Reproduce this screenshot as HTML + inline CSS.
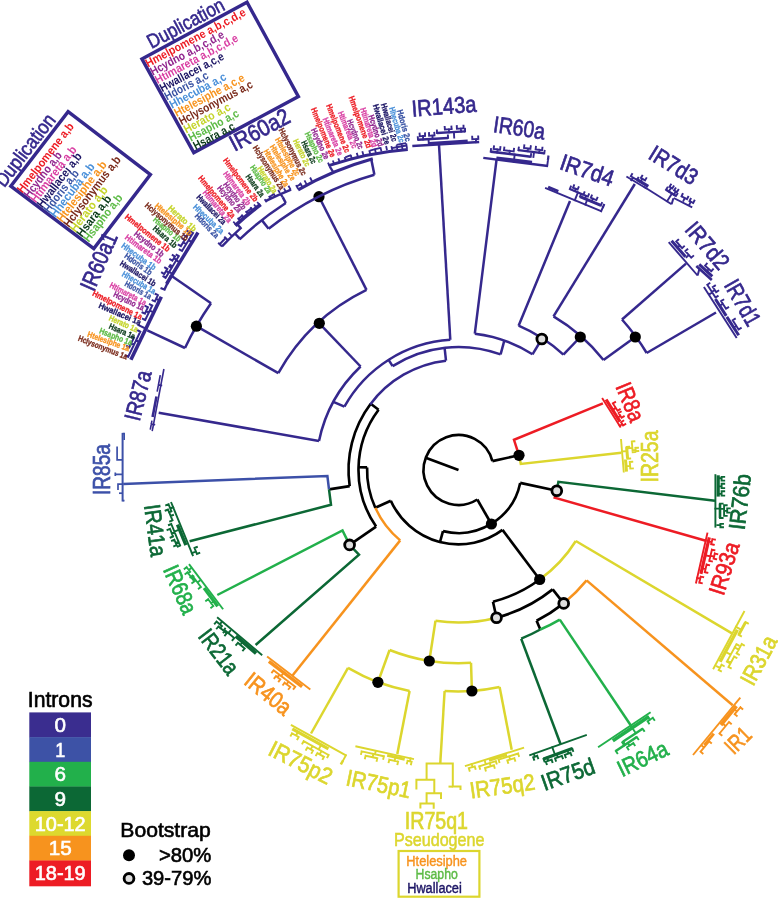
<!DOCTYPE html>
<html><head><meta charset="utf-8"><title>IR phylogeny</title>
<style>
html,body{margin:0;padding:0;background:#fff}
svg{display:block}
text{font-family:"Liberation Sans",sans-serif}
</style></head><body>
<svg width="778" height="899" viewBox="0 0 778 899" stroke-linecap="butt" stroke-linejoin="miter">
<rect width="778" height="899" fill="#fff"/>
<path d="M458.5 470 L425.7 457.7" stroke="#000000" stroke-width="2.65" fill="none" />
<path d="M477.3 499.5 A35 35 0 1 1 492.4 461.1" stroke="#000000" stroke-width="2.65" fill="none"/>
<path d="M492.4 461.1 L519 455.3" stroke="#000000" stroke-width="2.65" fill="none" />
<path d="M519 455.3 L514 439.8 L602.9 403.4" stroke="#ed1c24" stroke-width="2.5" fill="none" />
<path d="M519 455.3 L520.8 464 L621.4 452.8" stroke="#dcd62e" stroke-width="2.5" fill="none" />
<path d="M477.3 499.5 L491.4 524" stroke="#000000" stroke-width="2.65" fill="none" />
<path d="M520.2 482.9 A63 63 0 0 1 443 531.1" stroke="#000000" stroke-width="2.65" fill="none"/>
<path d="M520.2 482.9 L556.8 490.7" stroke="#000000" stroke-width="2.65" fill="none" />
<path d="M556.8 490.7 L558.4 481.8 L715 500.8" stroke="#0c6835" stroke-width="2.5" fill="none" />
<path d="M556.8 490.7 L554.7 497.7 L706.7 541" stroke="#ed1c24" stroke-width="2.5" fill="none" />
<path d="M443 531.1 L440 542" stroke="#000000" stroke-width="2.65" fill="none" />
<path d="M502.5 529.9 A74.3 74.3 0 0 1 390.8 500.7" stroke="#000000" stroke-width="2.65" fill="none"/>
<path d="M502.5 529.9 L539.7 579.5" stroke="#000000" stroke-width="2.65" fill="none" />
<path d="M390.8 500.7 L375.3 507.8" stroke="#000000" stroke-width="2.65" fill="none" />
<path d="M375.3 507.8 A91.4 91.4 0 0 0 400.2 540.4" stroke="#f7931e" stroke-width="2.5" fill="none"/>
<path d="M400.2 540.4 L292.5 675.5" stroke="#f7931e" stroke-width="2.5" fill="none" />
<path d="M375.3 507.8 A91.4 91.4 0 0 1 367.1 467.4" stroke="#000000" stroke-width="2.65" fill="none"/>
<path d="M367.1 467.4 L358.5 467.2" stroke="#000000" stroke-width="2.65" fill="none" />
<path d="M376.1 526.6 A100 100 0 0 1 378.6 409.8" stroke="#000000" stroke-width="2.65" fill="none"/>
<path d="M376.1 526.6 L349.6 544.9" stroke="#000000" stroke-width="2.65" fill="none" />
<path d="M349.6 544.9 L342.5 530.4 L217.3 595" stroke="#22b04b" stroke-width="2.5" fill="none" />
<path d="M349.6 544.9 L359 554.7 L255.6 645" stroke="#0c6835" stroke-width="2.5" fill="none" />
<path d="M378.6 409.8 L370.7 403.8" stroke="#000000" stroke-width="2.65" fill="none" />
<path d="M370.7 403.8 A110 110 0 0 0 349.7 486.1" stroke="#000000" stroke-width="2.65" fill="none"/>
<path d="M349.7 486.1 L329 489.4" stroke="#000000" stroke-width="2.65" fill="none" />
<path d="M329 489.4 L327.4 476 L123.2 483.9" stroke="#3c50a8" stroke-width="2.5" fill="none" />
<path d="M329 489.4 L331 504.8 L189.6 541.3" stroke="#0c6835" stroke-width="2.5" fill="none" />
<path d="M370.2 404.4 A110 110 0 0 1 446 360.7" stroke="#35288d" stroke-width="2.5" fill="none"/>
<path d="M446 360.7 L444.6 347.8" stroke="#35288d" stroke-width="2.5" fill="none" />
<path d="M392.6 366.1 A123 123 0 0 1 500.6 354.4" stroke="#35288d" stroke-width="2.5" fill="none"/>
<path d="M392.6 366.1 L388.6 359.8" stroke="#35288d" stroke-width="2.5" fill="none" />
<path d="M344.4 406.7 A130.5 130.5 0 0 1 450.3 339.8" stroke="#35288d" stroke-width="2.5" fill="none"/>
<path d="M450.3 339.8 L439 144.5" stroke="#35288d" stroke-width="2.5" fill="none" />
<path d="M344.4 406.7 L333.4 401.8" stroke="#35288d" stroke-width="2.5" fill="none" />
<path d="M319 440.9 A142.5 142.5 0 0 1 360.6 366.5" stroke="#35288d" stroke-width="2.5" fill="none"/>
<path d="M319 440.9 L158.7 412.8" stroke="#35288d" stroke-width="2.5" fill="none" />
<path d="M360.6 366.5 L319.3 323.3" stroke="#35288d" stroke-width="2.5" fill="none" />
<path d="M278.3 373.1 A203.4 203.4 0 0 1 366.5 289.9" stroke="#35288d" stroke-width="2.5" fill="none"/>
<path d="M278.3 373.1 L196.4 326.2" stroke="#35288d" stroke-width="2.5" fill="none" />
<path d="M366.5 289.9 L319 196.7" stroke="#35288d" stroke-width="2.5" fill="none" />
<path d="M500.6 354.4 L504.3 340.6" stroke="#35288d" stroke-width="2.5" fill="none" />
<path d="M474.8 333.7 A137.3 137.3 0 0 1 532.5 354.3" stroke="#35288d" stroke-width="2.5" fill="none"/>
<path d="M474.8 333.7 L496.5 160" stroke="#35288d" stroke-width="2.5" fill="none" />
<path d="M532.5 354.3 L541.8 339" stroke="#35288d" stroke-width="2.5" fill="none" />
<path d="M518.6 325.7 A156.1 156.1 0 0 1 563.4 354.7" stroke="#35288d" stroke-width="2.5" fill="none"/>
<path d="M518.6 325.7 L570 201" stroke="#35288d" stroke-width="2.5" fill="none" />
<path d="M563.4 354.7 L580.3 337" stroke="#35288d" stroke-width="2.5" fill="none" />
<path d="M553.5 316.4 A181.3 181.3 0 0 1 603.5 360" stroke="#35288d" stroke-width="2.5" fill="none"/>
<path d="M553.5 316.4 L634.8 184" stroke="#35288d" stroke-width="2.5" fill="none" />
<path d="M603.5 360 L635.3 337" stroke="#35288d" stroke-width="2.5" fill="none" />
<path d="M622 319.5 A221.9 221.9 0 0 1 646.7 353" stroke="#35288d" stroke-width="2.5" fill="none"/>
<path d="M622 319.5 L686 263.6" stroke="#35288d" stroke-width="2.5" fill="none" />
<path d="M646.7 353 L716 312.5" stroke="#35288d" stroke-width="2.5" fill="none" />
<path d="M539.7 579.5 A136.7 136.7 0 0 0 575.8 541" stroke="#dcd62e" stroke-width="2.5" fill="none"/>
<path d="M575.8 541 L732 633.4" stroke="#dcd62e" stroke-width="2.5" fill="none" />
<path d="M539.7 579.5 A136.2 136.2 0 0 1 493 601.7" stroke="#000000" stroke-width="2.65" fill="none"/>
<path d="M493 601.7 L496.5 617.7" stroke="#000000" stroke-width="2.65" fill="none" />
<path d="M496.5 617.7 A152.5 152.5 0 0 1 435.5 620.8" stroke="#dcd62e" stroke-width="2.5" fill="none"/>
<path d="M435.5 620.8 L429.3 661" stroke="#dcd62e" stroke-width="2.5" fill="none" />
<path d="M496.5 617.7 A152.3 152.3 0 0 0 552.7 589.4" stroke="#000000" stroke-width="2.65" fill="none"/>
<path d="M552.7 589.4 L563.7 603.4" stroke="#000000" stroke-width="2.65" fill="none" />
<path d="M563.7 603.4 A169.5 169.5 0 0 0 586.6 580.4" stroke="#f7931e" stroke-width="2.5" fill="none"/>
<path d="M586.6 580.4 L732.7 705.3" stroke="#f7931e" stroke-width="2.5" fill="none" />
<path d="M563.7 603.4 A169.9 169.9 0 0 1 536.6 620.8" stroke="#000000" stroke-width="2.65" fill="none"/>
<path d="M536.6 620.8 L540.3 629.5" stroke="#000000" stroke-width="2.65" fill="none" />
<path d="M540.3 629.5 A180 180 0 0 0 559.8 619.6" stroke="#22b04b" stroke-width="2.5" fill="none"/>
<path d="M559.8 619.6 L631.7 726.7" stroke="#22b04b" stroke-width="2.5" fill="none" />
<path d="M540.3 629.5 A179.6 179.6 0 0 1 521.2 638.7" stroke="#0c6835" stroke-width="2.5" fill="none"/>
<path d="M521.2 638.7 L560.6 744.3" stroke="#0c6835" stroke-width="2.5" fill="none" />
<path d="M429.3 661 A193 193 0 0 1 389.6 650" stroke="#dcd62e" stroke-width="2.5" fill="none"/>
<path d="M389.6 650 L377.9 682.3" stroke="#dcd62e" stroke-width="2.5" fill="none" />
<path d="M429.3 661 A193.2 193.2 0 0 0 471 662.8" stroke="#dcd62e" stroke-width="2.5" fill="none"/>
<path d="M471 662.8 L471.9 691" stroke="#dcd62e" stroke-width="2.5" fill="none" />
<path d="M377.9 682.3 A226.8 226.8 0 0 1 348 667.8" stroke="#dcd62e" stroke-width="2.5" fill="none"/>
<path d="M348 667.8 L311 733.5" stroke="#dcd62e" stroke-width="2.5" fill="none" />
<path d="M377.9 682.3 A226.7 226.7 0 0 0 409.6 691" stroke="#dcd62e" stroke-width="2.5" fill="none"/>
<path d="M409.6 691 L397.3 754" stroke="#dcd62e" stroke-width="2.5" fill="none" />
<path d="M471.9 691 A221.4 221.4 0 0 1 444.6 691" stroke="#dcd62e" stroke-width="2.5" fill="none"/>
<path d="M444.6 691 L440.3 763" stroke="#dcd62e" stroke-width="2.5" fill="none" />
<path d="M471.9 691 A221.1 221.1 0 0 0 499.6 687" stroke="#dcd62e" stroke-width="2.5" fill="none"/>
<path d="M499.6 687 L511.7 749.7" stroke="#dcd62e" stroke-width="2.5" fill="none" />
<path d="M196.4 326.2 A298.7 298.7 0 0 1 211 303.3" stroke="#35288d" stroke-width="2.5" fill="none"/>
<path d="M211 303.3 L171 275.5" stroke="#35288d" stroke-width="2.5" fill="none" />
<path d="M196.4 326.2 A299.2 299.2 0 0 0 185 348" stroke="#35288d" stroke-width="2.5" fill="none"/>
<path d="M185 348 L147.3 330.4" stroke="#35288d" stroke-width="2.5" fill="none" />
<path d="M412.3 146 L479.2 142" stroke="#35288d" stroke-width="2.4" fill="none"/>
<path d="M428.9 143.5 L467.7 141.1" stroke="#35288d" stroke-width="3.2" fill="none"/>
<path d="M418 139.8 L448.1 138" stroke="#35288d" stroke-width="2.4" fill="none"/>
<path d="M437 133 L465.1 131.4" stroke="#35288d" stroke-width="2.4" fill="none"/>
<path d="M428.9 145 L428.5 139.1 M418 139.8 L417.8 137.2 M448.1 138 L447.9 135.4 M419.8 136.2 L425.1 135.9 M423.2 139.4 L423 136 M419.8 136.2 L419.6 133.6 M425.1 135.9 L425 133.3 M429.1 135.7 L434.5 135.4 M432.6 138.9 L432.4 135.5 M429.1 135.7 L429 133.1 M434.5 135.4 L434.3 132.8 M454.2 137.6 L453.9 132 M437 133 L436.9 130.4 M465.1 131.4 L465 128.8 M444.9 129.5 L451.6 129.1 M449.1 132.3 L448.9 129.2 M444.9 129.5 L444.7 126.9 M451.6 129.1 L451.4 126.5 M456.9 128.7 L463.6 128.3 M461.1 131.6 L460.9 128.5 M456.9 128.7 L456.8 126.1 M463.6 128.3 L463.5 125.7 M472.3 139.3 L478.3 138.9 M476.1 142.2 L475.9 139.1 M472.3 139.3 L472.2 136.7 M478.3 138.9 L478.2 136.4 " stroke="#35288d" stroke-width="1.9" fill="none" stroke-linecap="square"/>
<path d="M483.3 157.9 L548 166" stroke="#35288d" stroke-width="2.4" fill="none"/>
<path d="M496.4 158 L532 162.4" stroke="#35288d" stroke-width="3.2" fill="none"/>
<path d="M490.7 151.6 L530.8 156.7" stroke="#35288d" stroke-width="2.6" fill="none"/>
<path d="M518.4 150.1 L544.3 153.4" stroke="#35288d" stroke-width="2.4" fill="none"/>
<path d="M513.8 161.7 L514.7 154.6 M490.7 151.6 L491 149.1 M530.8 156.7 L531.1 154.1 M493.6 148.9 L500.1 149.7 M497.1 152.4 L497.5 149.4 M493.6 148.9 L494 146.3 M500.1 149.7 L500.4 147.1 M504 150.2 L513.7 151.4 M509.4 154 L509.8 150.9 M504 150.2 L504.3 147.6 M513.7 151.4 L514 148.8 M533.4 157 L534 152.1 M518.4 150.1 L518.8 147.5 M544.3 153.4 L544.6 150.8 M524 148 L530.4 148.8 M527.5 151.2 L527.9 148.5 M524 148 L524.3 145.4 M530.4 148.8 L530.8 146.2 M535.6 149.5 L542.1 150.3 M539.1 152.7 L539.5 149.9 M535.6 149.5 L535.9 146.9 M542.1 150.3 L542.4 147.7 M547.9 159.1 L548.2 159.2 M547.2 165.9 L548.1 159.1 M547.9 159.1 L548.2 156.5 M548.2 159.2 L548.5 156.6 " stroke="#35288d" stroke-width="1.9" fill="none" stroke-linecap="square"/>
<path d="M545.1 187.8 L601.7 211.4" stroke="#35288d" stroke-width="1.9" fill="none"/>
<path d="M548.1 187 L558.3 191.3" stroke="#35288d" stroke-width="2.8" fill="none"/>
<path d="M569.8 189 L583.4 194.7" stroke="#35288d" stroke-width="2.2" fill="none"/>
<path d="M580 196.6 L600.9 205.4" stroke="#35288d" stroke-width="3.0" fill="none"/>
<path d="M574.8 200.2 L578 192.4 M569.8 189 L570.8 186.6 M583.4 194.7 L584.4 192.3 M573 187.7 L577.6 189.6 M574.8 191.1 L575.8 188.8 M573 187.7 L574 185.3 M577.6 189.6 L578.6 187.2 M585.3 204.5 L587.3 199.7 M580 196.6 L581 194.2 M600.9 205.4 L601.9 203 M583.4 194.7 L587.9 196.6 M584.9 198.7 L586.1 195.8 M583.4 194.7 L584.4 192.3 M587.9 196.6 L588.9 194.2 M590.8 197.8 L596.4 200.1 M591.6 201.5 L592.8 198.6 M590.8 197.8 L591.8 195.4 M596.4 200.1 L597.4 197.7 M602.8 207.2 L603.1 207.3 M601.2 211.2 L602.9 207.2 M602.8 207.2 L603.8 204.8 M603.1 207.3 L604.1 204.9 " stroke="#35288d" stroke-width="1.9" fill="none" stroke-linecap="square"/>
<path d="M626.4 176.5 L646.9 188.8" stroke="#35288d" stroke-width="1.9" fill="none"/>
<path d="M637.1 179.6 L648.3 186.4" stroke="#35288d" stroke-width="3.2" fill="none"/>
<path d="M630.8 176.2 L636.9 179.9 M631.3 180.2 L632.9 177.5 M630.8 176.2 L632.1 174 M636.9 179.9 L638.2 177.7 M640.9 177.9 L645 180.4 M640.5 181.7 L642.3 178.8 M640.9 177.9 L642.2 175.7 M645 180.4 L646.3 178.2 " stroke="#35288d" stroke-width="1.9" fill="none" stroke-linecap="square"/>
<path d="M643.9 186.7 L671.6 204.2" stroke="#35288d" stroke-width="1.9" fill="none"/>
<path d="M666 189.7 L676 196" stroke="#35288d" stroke-width="2.4" fill="none"/>
<path d="M667.1 201.3 L672 193.5 M666 189.7 L667.4 187.5 M676 196 L677.4 193.8 M669.5 186.7 L672.2 188.5 M668.8 191.4 L671.1 187.8 M669.5 186.7 L670.9 184.5 M672.2 188.5 L673.6 186.3 M674.1 190.4 L676.9 192.1 M673.8 194.6 L675.8 191.4 M674.1 190.4 L675.5 188.2 M676.9 192.1 L678.3 189.9 " stroke="#35288d" stroke-width="1.9" fill="none" stroke-linecap="square"/>
<path d="M671.6 204.2 L673.4 198.2" stroke="#35288d" stroke-width="2" fill="none" />
<path d="M673.7 198 L692.2 207.3" stroke="#35288d" stroke-width="1.9" fill="none"/>
<path d="M681.5 196.4 L687 199.1 M683.4 200.8 L684.8 198 M681.5 196.4 L682.6 194 M687 199.1 L688.2 196.8 M689.5 201.1 L693.2 203 M689.4 204.5 L690.8 201.7 M689.5 201.1 L690.7 198.8 M693.2 203 L694.4 200.6 " stroke="#35288d" stroke-width="1.9" fill="none" stroke-linecap="square"/>
<path d="M668.7 242.2 L697.6 275.5" stroke="#35288d" stroke-width="1.9" fill="none"/>
<path d="M671.6 240.8 L685.5 256.8" stroke="#35288d" stroke-width="3" fill="none"/>
<path d="M676.3 241.5 L682.1 248.1 M677.4 247.5 L679.7 245.5 M676.3 241.5 L678.2 239.8 M682.1 248.1 L684 246.4 M685.4 251 L691.2 257.7 M686.5 257.1 L688.9 255 M685.4 251 L687.4 249.3 M691.2 257.7 L693.2 256 " stroke="#35288d" stroke-width="1.9" fill="none" stroke-linecap="square"/>
<path d="M696.3 266 L711.8 280" stroke="#35288d" stroke-width="2.6" fill="none"/>
<path d="M699.2 264.4 L712.3 276.3" stroke="#35288d" stroke-width="3" fill="none"/>
<path d="M705.1 265.6 L711.3 271.2 M706.7 271.3 L708.8 269 M705.1 265.6 L706.8 263.7 M711.3 271.2 L713 269.3 " stroke="#35288d" stroke-width="1.9" fill="none" stroke-linecap="square"/>
<path d="M697.6 275.5 L699.5 268.5" stroke="#35288d" stroke-width="2" fill="none" />
<path d="M703.9 286.9 L736.7 338" stroke="#35288d" stroke-width="1.9" fill="none"/>
<path d="M715.4 299 L726.2 315.9" stroke="#35288d" stroke-width="3" fill="none"/>
<path d="M726.8 316.9 L738.7 335.3" stroke="#35288d" stroke-width="3" fill="none"/>
<path d="M707.3 284.7 L715.5 297.5 M709.6 294.1 L712.2 292.4 M707.3 284.7 L709.5 283.3 M715.5 297.5 L717.7 296.1 M712.8 287 L716.1 292.1 M712.1 291.7 L714.8 290 M712.8 287 L715 285.6 M716.1 292.1 L718.3 290.7 M721.1 301.1 L726 308.8 M720.2 305.5 L722.8 303.8 M721.1 301.1 L723.3 299.7 M726 308.8 L728.2 307.4 M732.7 320.3 L738.6 329.5 M733.7 327.5 L736.3 325.9 M732.7 320.3 L734.9 318.9 M738.6 329.5 L740.8 328.1 " stroke="#35288d" stroke-width="1.9" fill="none" stroke-linecap="square"/>
<path d="M602.1 397.9 L620.7 427.4" stroke="#ed1c24" stroke-width="1.9" fill="none"/>
<path d="M606.1 399.5 L620 421.7" stroke="#ed1c24" stroke-width="3.2" fill="none"/>
<path d="M612.9 403.4 L617.6 410.8 M612.6 409.9 L615.7 407.9 M612.9 403.4 L615.1 402.1 M617.6 410.8 L619.8 409.4 M618.6 413 L621.6 417.8 M617.5 417.7 L620.4 415.9 M618.6 413 L620.8 411.7 M621.6 417.8 L623.8 416.4 M621.1 422.2 L623.1 425.5 M619.7 425.8 L622.3 424.2 M621.1 422.2 L623.3 420.8 M623.1 425.5 L625.3 424.1 " stroke="#ed1c24" stroke-width="1.9" fill="none" stroke-linecap="square"/>
<path d="M621 439 L623.8 472.5" stroke="#dcd62e" stroke-width="1.9" fill="none"/>
<path d="M626.6 447 L627.6 458.7" stroke="#dcd62e" stroke-width="3" fill="none"/>
<path d="M625.5 459.5 L626.5 471.6" stroke="#dcd62e" stroke-width="3" fill="none"/>
<path d="M622 451.5 L627 451.1 M626.6 447 L629.2 446.7 M627.6 458.7 L630.2 458.5 M631.8 441.5 L632.7 452.2 M626.8 448.4 L632.3 447.9 M631.8 441.5 L634.4 441.3 M632.7 452.2 L635.3 452 M635.4 447.9 L635.7 451.3 M632.5 450.2 L635.6 449.9 M635.4 447.9 L638 447.7 M635.7 451.3 L638.3 451 M629.8 461.9 L630.3 468.6 M626.1 466.2 L630.1 465.9 M629.8 461.9 L632.3 461.7 M630.3 468.6 L632.9 468.4 " stroke="#dcd62e" stroke-width="1.9" fill="none" stroke-linecap="square"/>
<path d="M715.4 474.2 L715.4 527.6" stroke="#0c6835" stroke-width="1.9" fill="none"/>
<path d="M718.2 475.3 L718.2 496.6" stroke="#0c6835" stroke-width="3.2" fill="none"/>
<path d="M720 503.6 L720 518" stroke="#0c6835" stroke-width="2.6" fill="none"/>
<path d="M721.6 476.9 L721.6 480.6 M718.2 478.2 L721.6 478.2 M721.6 476.9 L724.2 476.9 M721.6 480.6 L724.2 480.6 M721.6 483.8 L721.6 488.1 M718.2 486.4 L721.6 486.4 M721.6 483.8 L724.2 483.8 M721.6 488.1 L724.2 488.1 M721.6 491.3 L721.6 495.6 M718.2 493.9 L721.6 493.9 M721.6 491.3 L724.2 491.3 M721.6 495.6 L724.2 495.6 M715.4 508.6 L720 508.6 M720 503.6 L722.6 503.6 M720 518 L722.6 518 M724.1 505.2 L724.1 515.9 M720 508.9 L724.1 508.9 M724.1 505.2 L726.7 505.2 M724.1 515.9 L726.7 515.9 M727.2 508.4 L727.2 512.6 M724.1 510.9 L727.2 510.9 M727.2 508.4 L729.8 508.4 M727.2 512.6 L729.8 512.6 M720.4 523.9 L720.4 527.3 M717.3 525.1 L720.4 525.1 M720.4 523.9 L723 523.9 M720.4 527.3 L723 527.3 " stroke="#0c6835" stroke-width="1.9" fill="none" stroke-linecap="square"/>
<path d="M707.5 532.6 L695.9 583.5" stroke="#ed1c24" stroke-width="1.9" fill="none"/>
<path d="M709.3 537.3 L700.9 573.9" stroke="#ed1c24" stroke-width="3.2" fill="none"/>
<path d="M712.4 539.1 L711.2 544.2 M708.4 541.4 L711.7 542.1 M712.4 539.1 L714.9 539.6 M711.2 544.2 L713.8 544.7 M711.9 549.7 L709.3 560.9 M705.2 555.2 L710.3 556.4 M711.9 549.7 L714.4 550.2 M709.3 560.9 L711.9 561.4 M714.8 553.5 L713.6 558.6 M710.5 555.8 L714.1 556.6 M714.8 553.5 L717.3 554.1 M713.6 558.6 L716.2 559.2 M706.6 564.5 L704.8 572.2 M702.2 568.3 L705.5 569.1 M706.6 564.5 L709.1 565.1 M704.8 572.2 L707.4 572.7 M700.7 576.6 L699.3 582.7 M697.2 578 L700.2 578.7 M700.7 576.6 L703.2 577.1 M699.3 582.7 L701.8 583.2 " stroke="#ed1c24" stroke-width="1.9" fill="none" stroke-linecap="square"/>
<path d="M744.5 611 L713.1 669.2" stroke="#dcd62e" stroke-width="1.9" fill="none"/>
<path d="M737.4 629.7 L720.1 661.7" stroke="#dcd62e" stroke-width="3.4" fill="none"/>
<path d="M745.6 622.1 L738.7 634.9" stroke="#dcd62e" stroke-width="3" fill="none"/>
<path d="M736 626.8 L741.5 629.8 M745.6 622.1 L747.9 623.4 M738.7 634.9 L741 636.2 M736.4 644.2 L726.9 661.6 M725.5 651.8 L730.7 654.6 M736.4 644.2 L738.6 645.4 M726.9 661.6 L729.2 662.9 M741.7 644 L736.6 653.4 M734.6 647.4 L738.7 649.6 M741.7 644 L744 645.3 M736.6 653.4 L738.9 654.6 M734.2 656.5 L728.5 667 M727.3 660.9 L730.8 662.8 M734.2 656.5 L736.5 657.8 M728.5 667 L730.8 668.2 M721.5 664.7 L718.7 670 M716.9 666.3 L719.8 667.9 M721.5 664.7 L723.8 666 M718.7 670 L721 671.2 " stroke="#dcd62e" stroke-width="1.9" fill="none" stroke-linecap="square"/>
<path d="M740.3 697.6 L693 755" stroke="#f7931e" stroke-width="1.9" fill="none"/>
<path d="M736.5 706.1 L720.9 725" stroke="#f7931e" stroke-width="3.6" fill="none"/>
<path d="M713.8 733.6 L704.4 745.1" stroke="#f7931e" stroke-width="3" fill="none"/>
<path d="M740.4 707.3 L734.7 714.2 M734.6 709.4 L736.9 711.4 M740.4 707.3 L742.4 708.9 M734.7 714.2 L736.7 715.8 M729 722 L719.5 733.5 M722.3 723.3 L725.7 726 M729 722 L731 723.7 M719.5 733.5 L721.6 735.2 M709.1 741.3 L700.6 751.6 M701.6 745.5 L704 747.5 M709.1 741.3 L711.1 742.9 M700.6 751.6 L702.6 753.3 " stroke="#f7931e" stroke-width="1.9" fill="none" stroke-linecap="square"/>
<path d="M650.6 712.2 L598.1 747.2" stroke="#22b04b" stroke-width="1.9" fill="none"/>
<path d="M649 716.6 L612.8 740.8" stroke="#22b04b" stroke-width="3.6" fill="none"/>
<path d="M642.6 728.7 L623.2 741.6" stroke="#22b04b" stroke-width="2.4" fill="none"/>
<path d="M636.8 737 L615.8 751" stroke="#22b04b" stroke-width="2.6" fill="none"/>
<path d="M632.2 727.8 L635.8 733.2 M642.6 728.7 L644.1 730.9 M623.2 741.6 L624.7 743.8 M622.2 742.3 L624.2 745.4 M636.8 737 L638.3 739.2 M615.8 751 L617.3 753.2 M633.3 743.1 L627 747.3 M627.8 743.1 L629.5 745.6 M633.3 743.1 L634.7 745.3 M627 747.3 L628.4 749.5 M652.8 717.8 L647.6 721.3 M647.9 717.3 L649.7 719.9 M652.8 717.8 L654.3 720 M647.6 721.3 L649 723.5 " stroke="#22b04b" stroke-width="1.9" fill="none" stroke-linecap="square"/>
<path d="M586.8 734.8 L529.3 755.4" stroke="#0c6835" stroke-width="1.9" fill="none"/>
<path d="M572.3 748.6 L543.5 758.9" stroke="#0c6835" stroke-width="3.2" fill="none"/>
<path d="M552.3 747.2 L555 754.7 M572.3 748.6 L573.1 751 M543.5 758.9 L544.4 761.3 M570.5 752.8 L564.8 754.9 M567.4 750.3 L568.5 753.5 M570.5 752.8 L571.4 755.3 M564.8 754.9 L565.7 757.3 M561.9 755.9 L555 758.4 M556.6 754.2 L557.8 757.4 M561.9 755.9 L562.8 758.3 M555 758.4 L555.9 760.8 M551.6 759.6 L545.8 761.7 M547 757.6 L548.1 760.8 M551.6 759.6 L552.4 762.1 M545.8 761.7 L546.7 764.1 M537.2 755.8 L533.2 757.3 M533.8 753.8 L534.8 756.7 M537.2 755.8 L538.1 758.3 M533.2 757.3 L534.1 759.7 " stroke="#0c6835" stroke-width="1.9" fill="none" stroke-linecap="square"/>
<path d="M524.1 747.7 L464.9 766.2" stroke="#dcd62e" stroke-width="1.9" fill="none"/>
<path d="M506.8 754.7 L489 760.3" stroke="#dcd62e" stroke-width="2.8" fill="none"/>
<path d="M518.1 753.5 L498.6 759.6 M505.5 754.2 L506.4 757.1 M518.1 753.5 L518.9 756 M498.6 759.6 L499.3 762.1 M514.4 758.2 L507.3 760.4 M509.1 756.3 L510.1 759.5 M514.4 758.2 L515.2 760.7 M507.3 760.4 L508.1 762.9 M495.8 761.1 L479.2 766.3 M484.9 761.2 L485.8 764.2 M495.8 761.1 L496.6 763.6 M479.2 766.3 L480 768.8 M493.9 765.3 L485 768 M489.7 763 L490.7 766.2 M493.9 765.3 L494.6 767.8 M485 768 L485.7 770.5 M474.7 766.4 L468.8 768.2 M471.7 764.1 L472.6 767 M474.7 766.4 L475.5 768.9 M468.8 768.2 L469.6 770.7 " stroke="#dcd62e" stroke-width="1.9" fill="none" stroke-linecap="square"/>
<path d="M355.4 746.2 L414 759.1" stroke="#dcd62e" stroke-width="1.9" fill="none"/>
<path d="M387.2 755.4 L404.7 759.3" stroke="#dcd62e" stroke-width="3.0" fill="none"/>
<path d="M361.6 751.4 L383.9 756.3 M375.7 751.3 L375 754.3 M361.6 751.4 L361.1 753.9 M383.9 756.3 L383.3 758.8 M365.6 755.7 L377.3 758.3 M373.4 754 L372.6 757.3 M365.6 755.7 L365 758.3 M377.3 758.3 L376.7 760.9 M389.3 759.7 L398.1 761.6 M395.4 757.2 L394.6 760.9 M389.3 759.7 L388.7 762.2 M398.1 761.6 L397.5 764.2 M407.5 760.8 L411.6 761.7 M410.6 758.4 L409.9 761.4 M407.5 760.8 L406.9 763.4 M411.6 761.7 L411 764.3 " stroke="#dcd62e" stroke-width="1.9" fill="none" stroke-linecap="square"/>
<path d="M290.9 724.9 L346.4 755.7" stroke="#dcd62e" stroke-width="1.9" fill="none"/>
<path d="M292.3 728.9 L328.4 748.9" stroke="#dcd62e" stroke-width="3.2" fill="none"/>
<path d="M292 733.3 L298.7 737 M298 732 L296 735.5 M292 733.3 L290.8 735.6 M298.7 737 L297.4 739.3 M303.6 741.2 L328.6 755 M321.2 744.9 L318.6 749.5 M303.6 741.2 L302.4 743.5 M328.6 755 L327.4 757.3 M307.4 747.5 L312.9 750.6 M312.5 746.1 L310.7 749.4 M307.4 747.5 L306.1 749.8 M312.9 750.6 L311.7 752.9 M317.4 753.1 L324 756.8 M321.5 751.1 L319.7 754.4 M317.4 753.1 L316.1 755.3 M324 756.8 L322.8 759 M342.3 761.2 L342.8 761.5 M345.9 755.4 L342.6 761.4 M342.3 761.2 L341 763.5 M342.8 761.5 L341.6 763.8 " stroke="#dcd62e" stroke-width="1.9" fill="none" stroke-linecap="square"/>
<path d="M267.1 656.4 L310.3 689.4" stroke="#f7931e" stroke-width="1.9" fill="none"/>
<path d="M268.9 661.3 L302.1 686.7" stroke="#f7931e" stroke-width="3.4" fill="none"/>
<path d="M273.6 670.3 L295.2 686.8 M283.8 672.6 L281.1 676.1 M273.6 670.3 L272 672.4 M295.2 686.8 L293.6 688.9 M276 676.1 L280.3 679.4 M279.4 674.8 L277.5 677.2 M276 676.1 L274.4 678.1 M280.3 679.4 L278.8 681.4 M284.6 682.7 L290.3 687 M288.5 681.7 L286.6 684.2 M284.6 682.7 L283.1 684.7 M290.3 687 L288.7 689 " stroke="#f7931e" stroke-width="1.9" fill="none" stroke-linecap="square"/>
<path d="M217.1 617.2 L262.2 655.2" stroke="#0c6835" stroke-width="1.9" fill="none"/>
<path d="M235.8 636.2 L256.1 653.3" stroke="#0c6835" stroke-width="3.6" fill="none"/>
<path d="M216.5 621.6 L221.9 626.1 M221.8 621.9 L219.8 624.3 M216.5 621.6 L214.8 623.6 M221.9 626.1 L220.2 628.1 M218.5 626.5 L226.6 633.3 M225 628.7 L223.4 630.6 M218.5 626.5 L216.8 628.5 M226.6 633.3 L225 635.3 M225.2 630.5 L234.2 638.1 M230.3 630.8 L228.3 633.2 M225.2 630.5 L223.5 632.5 M234.2 638.1 L232.5 640.1 M237.9 642.8 L244.7 648.5 M242.7 642 L240.3 644.8 M237.9 642.8 L236.2 644.8 M244.7 648.5 L243 650.5 " stroke="#0c6835" stroke-width="1.9" fill="none" stroke-linecap="square"/>
<path d="M189 564.1 L223.1 609.2" stroke="#22b04b" stroke-width="1.9" fill="none"/>
<path d="M204.1 588.1 L217.7 606.2" stroke="#22b04b" stroke-width="3.4" fill="none"/>
<path d="M186.7 567.2 L190.1 571.8 M191.2 568.1 L188.8 570 M186.7 567.2 L184.6 568.8 M190.1 571.8 L188.1 573.3 M187.5 572.3 L194.3 581.4 M193.5 576.3 L191.6 577.8 M187.5 572.3 L185.4 573.9 M194.3 581.4 L192.2 582.9 M192.4 575.7 L200.9 587 M199.9 580.6 L197.5 582.5 M192.4 575.7 L190.3 577.3 M200.9 587 L198.8 588.6 M208.2 599.2 L213.3 606 M214 601.2 L211.2 603.3 M208.2 599.2 L206.1 600.8 M213.3 606 L211.2 607.6 " stroke="#22b04b" stroke-width="1.9" fill="none" stroke-linecap="square"/>
<path d="M171 502 L193.1 556.1" stroke="#0c6835" stroke-width="1.9" fill="none"/>
<path d="M177.5 524.6 L185.9 545.1" stroke="#0c6835" stroke-width="3.4" fill="none"/>
<path d="M168.6 504.3 L171.4 511.3 M173.2 507.3 L170.3 508.5 M168.6 504.3 L166.2 505.2 M171.4 511.3 L169 512.3 M168 509.5 L172.5 520.3 M173 515.1 L170.7 516 M168 509.5 L165.6 510.5 M172.5 520.3 L170.1 521.3 M171.3 524 L180.1 545.6 M179.5 529.4 L174.4 531.6 M171.3 524 L168.9 525 M180.1 545.6 L177.7 546.6 M170 528.9 L173 536.5 M174.7 532.3 L171.8 533.5 M170 528.9 L167.5 529.9 M173 536.5 L170.6 537.5 M174.4 539.8 L176.6 545.2 M178.6 541.8 L175.7 543 M174.4 539.8 L172 540.7 M176.6 545.2 L174.2 546.2 M194.5 548 L196.9 553.9 M191.9 553.2 L195.9 551.5 M194.5 548 L196.9 547 M196.9 553.9 L199.3 552.9 " stroke="#0c6835" stroke-width="1.9" fill="none" stroke-linecap="square"/>
<path d="M122.6 432.9 L122.6 501.5" stroke="#3c50a8" stroke-width="2.0" fill="none" />
<path d="M117.1 446.4 L117.1 459.9 L122.6 459.9" stroke="#3c50a8" stroke-width="1.7" fill="none" />
<path d="M115.3 472.6 L115.3 476 L115.3 474.3 L122.6 474.3" stroke="#3c50a8" stroke-width="1.7" fill="none" />
<path d="M118 490 L118 484.2 L122.6 484.2" stroke="#3c50a8" stroke-width="1.7" fill="none" />
<path d="M119 493.2 L122.6 493.2" stroke="#3c50a8" stroke-width="1.7" fill="none" />
<path d="M122.7 433.6 L124.2 433.6 L124.2 440" stroke="#3c50a8" stroke-width="1.6" fill="none" />
<path d="M122.7 500.6 L124.5 500.6" stroke="#3c50a8" stroke-width="1.8" fill="none" />
<path d="M163.9 369 L152.2 431.1" stroke="#35288d" stroke-width="1.6" fill="none"/>
<path d="M156.5 396.5 L152.6 417" stroke="#35288d" stroke-width="2.6" fill="none"/>
<path d="M160.1 376 L157.3 390.9 M161.4 385.5 L158.4 384.9 M151.8 421.4 L150.4 428.8 M154.4 424.6 L151.3 424 " stroke="#35288d" stroke-width="1.6" fill="none" stroke-linecap="square"/>
<path d="M426.6 779.8 L426.6 763.4 L452.8 763.4 L452.8 786.6 L460.5 786.6 L460.5 790" stroke="#dcd62e" stroke-width="2.0" fill="none" />
<path d="M416.4 789.6 L416.4 779.8 L434.3 779.8 L434.3 793.3" stroke="#dcd62e" stroke-width="2.0" fill="none" />
<path d="M426.6 803.5 L426.6 793.3 L441 793.3 L441 799" stroke="#dcd62e" stroke-width="2.0" fill="none" />
<path d="M420.4 808.5 L420.4 803.5 L433.7 803.5 L433.7 808.8" stroke="#dcd62e" stroke-width="2.0" fill="none" />
<path d="M448.5 786.6 L452.8 786.6" stroke="#dcd62e" stroke-width="2.0" fill="none" />
<circle cx="519" cy="455.3" r="5.6" fill="#000"/>
<circle cx="491.4" cy="524" r="5.6" fill="#000"/>
<circle cx="539.7" cy="579.5" r="5.6" fill="#000"/>
<circle cx="429.3" cy="661" r="5.6" fill="#000"/>
<circle cx="377.9" cy="682.3" r="5.6" fill="#000"/>
<circle cx="471.9" cy="691" r="5.6" fill="#000"/>
<circle cx="319.3" cy="323.3" r="5.6" fill="#000"/>
<circle cx="196.4" cy="326.2" r="5.6" fill="#000"/>
<circle cx="319" cy="196.7" r="5.6" fill="#000"/>
<circle cx="580.3" cy="337" r="5.6" fill="#000"/>
<circle cx="635.3" cy="337" r="5.6" fill="#000"/>
<circle cx="556.8" cy="490.7" r="4.9" fill="#dedede" stroke="#000" stroke-width="2.8"/>
<circle cx="349.6" cy="544.9" r="4.9" fill="#dedede" stroke="#000" stroke-width="2.8"/>
<circle cx="541.8" cy="339" r="4.9" fill="#dedede" stroke="#000" stroke-width="2.8"/>
<circle cx="496.5" cy="617.7" r="4.9" fill="#dedede" stroke="#000" stroke-width="2.8"/>
<circle cx="563.7" cy="603.4" r="4.9" fill="#dedede" stroke="#000" stroke-width="2.8"/>
<path d="M161.3 296.7 L130.9 359.7" stroke="#35288d" stroke-width="3.6" fill="none"/>
<path d="M157.9 295.1 L154.9 301.4 M158.9 300.2 L156.1 298.9 M157.9 295.1 L155.6 294 M154.9 301.4 L152.6 300.3 M152.2 305.5 L145.2 320 M152.6 311.9 L149.8 310.6 M152.2 305.5 L149.9 304.4 M145.2 320 L142.9 318.9 M147.9 307.3 L144.9 313.6 M148.9 312.5 L146.1 311.1 M147.9 307.3 L145.6 306.2 M144.9 313.6 L142.5 312.5 M140.3 331.6 L128.2 356.8 M138.9 341.8 L136.1 340.4 M140.3 331.6 L138 330.5 M128.2 356.8 L125.8 355.7 M133.9 337.8 L129.3 347.3 M133.9 344.9 L131.1 343.5 M133.9 337.8 L131.5 336.7 M129.3 347.3 L127 346.2 " stroke="#35288d" stroke-width="2" fill="none" stroke-linecap="square"/>
<path d="M137.5 324.7 L147.5 329.5" stroke="#35288d" stroke-width="2" fill="none" />
<path d="M171 275.5 L164.5 289.5 L160.5 288" stroke="#35288d" stroke-width="2.4" fill="none" />
<path d="M166.5 284 L198 232.5" stroke="#35288d" stroke-width="3.4" fill="none"/>
<path d="M165.6 277.8 L171.6 268 M171.8 273.5 L169.2 271.9 M165.6 277.8 L163.4 276.4 M171.6 268 L169.3 266.6 M164.2 274.1 L167.3 268.9 M168.7 272.6 L166.1 271 M164.2 274.1 L162 272.7 M167.3 268.9 L165.1 267.6 M172.5 266.4 L178.8 256.1 M178.9 261.9 L176.3 260.3 M172.5 266.4 L170.3 265.1 M178.8 256.1 L176.6 254.8 M172.4 260.7 L174.9 256.6 M176.5 259.9 L173.9 258.2 M172.4 260.7 L170.2 259.4 M174.9 256.6 L172.7 255.2 M182 251 L193 233 M191.2 241.8 L188.6 240.2 M182 251 L179.7 249.6 M193 233 L190.8 231.6 M180.9 246.1 L184.7 239.9 M185.9 244 L183.2 242.4 M180.9 246.1 L178.7 244.8 M184.7 239.9 L182.5 238.6 M186.6 236.9 L189.4 232.2 M191 235.7 L188.3 234.1 M186.6 236.9 L184.4 235.5 M189.4 232.2 L187.2 230.9 " stroke="#35288d" stroke-width="2" fill="none" stroke-linecap="square"/>
<path d="M268.6 228.7 A307 307 0 0 1 374.4 174.7" stroke="#35288d" stroke-width="2.5" fill="none"/>
<path d="M268.6 228.7 L261.8 220.1" stroke="#35288d" stroke-width="2.5" fill="none" />
<path d="M239.6 239.3 A318 318 0 0 1 285.8 203" stroke="#35288d" stroke-width="2.5" fill="none"/>
<path d="M240 238.9 L234.9 233.5" stroke="#35288d" stroke-width="2.5" fill="none" />
<path d="M222 246.4 A325.5 325.5 0 0 1 241.5 227.3" stroke="#35288d" stroke-width="2.4" fill="none"/>
<path d="M222 246.4 L218.2 242.8" stroke="#35288d" stroke-width="2.0" fill="none" />
<path d="M227.9 240.2 L224.3 236.6" stroke="#35288d" stroke-width="2.0" fill="none" />
<path d="M219.7 244.2 A328.7 328.7 0 0 1 225.7 238" stroke="#35288d" stroke-width="2.0" fill="none"/>
<path d="M232 236.2 L228.5 232.7 " stroke="#35288d" stroke-width="1.8" fill="none"/>
<path d="M240.7 228.1 L237 224" stroke="#35288d" stroke-width="2.4" fill="none" />
<path d="M235.3 225.6 A331 331 0 0 1 260.7 204.6" stroke="#35288d" stroke-width="3.8" fill="none"/>
<path d="M236.2 224.8 L233.3 221.7 M240.5 221 L237.7 217.8 M244 217.9 L241.3 214.7 M248.4 214.2 L245.7 211 M252.9 210.6 L250.3 207.3 M256.5 207.8 L254 204.4 M259.8 205.3 L257.2 201.9 " stroke="#35288d" stroke-width="1.7" fill="none"/>
<path d="M237.8 219.6 A333.8 333.8 0 0 1 243 215" stroke="#35288d" stroke-width="1.8" fill="none"/>
<path d="M245.7 212.8 A333.8 333.8 0 0 1 252.1 207.7" stroke="#35288d" stroke-width="1.8" fill="none"/>
<path d="M285.8 203 L282.7 197.2" stroke="#35288d" stroke-width="2.5" fill="none" />
<path d="M265.4 201.2 A328.8 328.8 0 0 1 291.1 189.6" stroke="#35288d" stroke-width="2.6" fill="none"/>
<path d="M282.7 197.2 L280.5 193.9" stroke="#35288d" stroke-width="2.2" fill="none" />
<path d="M266.7 202.1 L264.6 199.2 M270.9 199.1 L268.9 196.1 M275.2 196.2 L273.2 193.2 M280 193 L278.1 190 " stroke="#35288d" stroke-width="1.8" fill="none"/>
<path d="M269 197.4 A332 332 0 0 1 274.3 193.8" stroke="#35288d" stroke-width="1.8" fill="none"/>
<path d="M286.3 192.3 L283.9 188.4 M290.7 189.6 L288.4 185.7 " stroke="#35288d" stroke-width="1.8" fill="none"/>
<path d="M374.4 174.7 L371.4 160" stroke="#35288d" stroke-width="2.5" fill="none" />
<path d="M298.1 189.9 A322.8 322.8 0 0 1 372.8 158.8" stroke="#35288d" stroke-width="3.2" fill="none"/>
<path d="M298.2 189 L296 185.1 M302.2 186.8 L300 182.8 M306.6 184.4 L304.5 180.4 M312.1 181.5 L310.1 177.5 " stroke="#35288d" stroke-width="1.8" fill="none"/>
<path d="M296.7 186.4 A326.5 326.5 0 0 1 301.2 183.9" stroke="#35288d" stroke-width="1.8" fill="none"/>
<path d="M333.4 172.4 L329.8 166.7" stroke="#35288d" stroke-width="2.2" fill="none" />
<path d="M328.6 165.6 A327.8 327.8 0 0 1 407.8 149.4" stroke="#35288d" stroke-width="3.0" fill="none"/>
<path d="M329.6 166.4 L328 162.6 M334.4 164.4 L332.8 160.5 M339.8 162.3 L338.3 158.4 " stroke="#35288d" stroke-width="1.8" fill="none"/>
<path d="M346 161 L344.6 157.1 M352 158.9 L350.6 155 M358 156.9 L356.7 152.9 M363.5 155.2 L362.3 151.2 " stroke="#35288d" stroke-width="1.8" fill="none"/>
<path d="M370.4 154.5 L369.2 150.2 M375.9 153 L374.8 148.7 M381.5 151.6 L380.4 147.3 M387 150.3 L386.1 146 " stroke="#35288d" stroke-width="1.8" fill="none"/>
<path d="M392.5 151.2 L391.4 146.1 M397.5 150.2 L396.5 145.1 M402.5 149.2 L401.6 144.1 M407 148.5 L406.2 143.4 " stroke="#35288d" stroke-width="1.8" fill="none"/>
<path d="M345.3 157.4 A332.5 332.5 0 0 1 351.3 155.2" stroke="#35288d" stroke-width="1.8" fill="none"/>
<path d="M369.9 150.6 A331.5 331.5 0 0 1 380.6 147.8" stroke="#35288d" stroke-width="1.8" fill="none"/>
<path d="M391.9 148.2 A328.6 328.6 0 0 1 406.5 145.5" stroke="#35288d" stroke-width="1.8" fill="none"/>
<path d="M396.5 144.9 A331 331 0 0 1 406.1 143.2" stroke="#35288d" stroke-width="1.8" fill="none"/>
<text transform="translate(412.3 116.7) rotate(-4.5)" font-size="23" fill="#35288d" stroke="#35288d" stroke-width="0.69" font-weight="normal" dy="0" textLength="64.9" lengthAdjust="spacingAndGlyphs" >IR143a</text>
<text transform="translate(492.6 132.1) rotate(8.1)" font-size="23" fill="#35288d" stroke="#35288d" stroke-width="0.69" font-weight="normal" dy="0" textLength="51.9" lengthAdjust="spacingAndGlyphs" >IR60a</text>
<text transform="translate(558.4 168.8) rotate(18.7)" font-size="23" fill="#35288d" stroke="#35288d" stroke-width="0.69" font-weight="normal" dy="0" textLength="55.5" lengthAdjust="spacingAndGlyphs" >IR7d4</text>
<text transform="translate(647 158) rotate(31.6)" font-size="23" fill="#35288d" stroke="#35288d" stroke-width="0.69" font-weight="normal" dy="0" textLength="52.8" lengthAdjust="spacingAndGlyphs" >IR7d3</text>
<text transform="translate(683.8 230) rotate(49.6)" font-size="23" fill="#35288d" stroke="#35288d" stroke-width="0.69" font-weight="normal" dy="0" textLength="54.3" lengthAdjust="spacingAndGlyphs" >IR7d2</text>
<text transform="translate(723.5 285) rotate(60.3)" font-size="23" fill="#35288d" stroke="#35288d" stroke-width="0.69" font-weight="normal" dy="0" textLength="49.5" lengthAdjust="spacingAndGlyphs" >IR7d1</text>
<text transform="translate(615.2 386.4) rotate(67.4)" font-size="23" fill="#ed1c24" stroke="#ed1c24" stroke-width="0.69" font-weight="normal" dy="0" textLength="40.1" lengthAdjust="spacingAndGlyphs" >IR8a</text>
<text transform="translate(657.8 482.5) rotate(-90)" font-size="23" fill="#dcd62e" stroke="#dcd62e" stroke-width="0.69" font-weight="normal" dy="0" textLength="52" lengthAdjust="spacingAndGlyphs" >IR25a</text>
<text transform="translate(744.5 530.6) rotate(-83.3)" font-size="23" fill="#0c6835" stroke="#0c6835" stroke-width="0.69" font-weight="normal" dy="0" textLength="56" lengthAdjust="spacingAndGlyphs" >IR76b</text>
<text transform="translate(723.5 596.6) rotate(-72.4)" font-size="23" fill="#ed1c24" stroke="#ed1c24" stroke-width="0.69" font-weight="normal" dy="0" textLength="54.3" lengthAdjust="spacingAndGlyphs" >IR93a</text>
<text transform="translate(753.2 687) rotate(-61.7)" font-size="23" fill="#dcd62e" stroke="#dcd62e" stroke-width="0.69" font-weight="normal" dy="0" textLength="52.3" lengthAdjust="spacingAndGlyphs" >IR31a</text>
<text transform="translate(733.8 755.6) rotate(-44.4)" font-size="23" fill="#f7931e" stroke="#f7931e" stroke-width="0.69" font-weight="normal" dy="0" textLength="27.3" lengthAdjust="spacingAndGlyphs" >IR1</text>
<text transform="translate(622 777.2) rotate(-25.6)" font-size="23" fill="#22b04b" stroke="#22b04b" stroke-width="0.69" font-weight="normal" dy="0" textLength="53.2" lengthAdjust="spacingAndGlyphs" >IR64a</text>
<text transform="translate(544.6 791) rotate(-19.5)" font-size="23" fill="#0c6835" stroke="#0c6835" stroke-width="0.69" font-weight="normal" dy="0" textLength="55.2" lengthAdjust="spacingAndGlyphs" >IR75d</text>
<text transform="translate(471 798.6) rotate(-8.1)" font-size="23" fill="#dcd62e" stroke="#dcd62e" stroke-width="0.69" font-weight="normal" dy="0" textLength="65.5" lengthAdjust="spacingAndGlyphs" >IR75q2</text>
<text transform="translate(404.8 829.3) rotate(0)" font-size="23" fill="#dcd62e" stroke="#dcd62e" stroke-width="0.69" font-weight="normal" dy="0" textLength="63.2" lengthAdjust="spacingAndGlyphs" >IR75q1</text>
<text transform="translate(344.9 785) rotate(11.7)" font-size="23" fill="#dcd62e" stroke="#dcd62e" stroke-width="0.69" font-weight="normal" dy="0" textLength="65.5" lengthAdjust="spacingAndGlyphs" >IR75p1</text>
<text transform="translate(266.7 754.2) rotate(27)" font-size="23" fill="#dcd62e" stroke="#dcd62e" stroke-width="0.69" font-weight="normal" dy="0" textLength="68.1" lengthAdjust="spacingAndGlyphs" >IR75p2</text>
<text transform="translate(242.8 683.3) rotate(38.8)" font-size="23" fill="#f7931e" stroke="#f7931e" stroke-width="0.69" font-weight="normal" dy="0" textLength="52.7" lengthAdjust="spacingAndGlyphs" >IR40a</text>
<text transform="translate(197.3 636.6) rotate(52.5)" font-size="23" fill="#0c6835" stroke="#0c6835" stroke-width="0.69" font-weight="normal" dy="0" textLength="50.4" lengthAdjust="spacingAndGlyphs" >IR21a</text>
<text transform="translate(162.7 569.6) rotate(66)" font-size="23" fill="#22b04b" stroke="#22b04b" stroke-width="0.69" font-weight="normal" dy="0" textLength="50.8" lengthAdjust="spacingAndGlyphs" >IR68a</text>
<text transform="translate(143.9 505.5) rotate(82.2)" font-size="23" fill="#0c6835" stroke="#0c6835" stroke-width="0.69" font-weight="normal" dy="0" textLength="52.3" lengthAdjust="spacingAndGlyphs" >IR41a</text>
<text transform="translate(110.3 495) rotate(-90)" font-size="23" fill="#3c50a8" stroke="#3c50a8" stroke-width="0.69" font-weight="normal" dy="0" textLength="50.9" lengthAdjust="spacingAndGlyphs" >IR85a</text>
<text transform="translate(139.6 422) rotate(-76)" font-size="23" fill="#35288d" stroke="#35288d" stroke-width="0.69" font-weight="normal" dy="0" textLength="50.8" lengthAdjust="spacingAndGlyphs" >IR87a</text>
<text transform="translate(93.9 292.5) rotate(-66.6)" font-size="23" fill="#35288d" stroke="#35288d" stroke-width="0.69" font-weight="normal" dy="0" textLength="61" lengthAdjust="spacingAndGlyphs" >IR60a1</text>
<text transform="translate(234.6 151.8) rotate(-27.8)" font-size="23" fill="#35288d" stroke="#35288d" stroke-width="0.69" font-weight="normal" dy="0" textLength="64.9" lengthAdjust="spacingAndGlyphs" >IR60a2</text>
<text transform="translate(394 845.6) rotate(0)" font-size="18.5" fill="#dcd62e" stroke="#dcd62e" stroke-width="0.55" font-weight="normal" dy="0" textLength="90.4" lengthAdjust="spacingAndGlyphs" >Pseudogene</text>
<text transform="translate(151.6 49) rotate(-28.1)" font-size="20" fill="#35288d" stroke="#35288d" stroke-width="0.60" font-weight="normal" dy="0" textLength="84.6" lengthAdjust="spacingAndGlyphs" >Duplication</text>
<text transform="translate(4.2 188.3) rotate(-52.4)" font-size="20" fill="#35288d" stroke="#35288d" stroke-width="0.60" font-weight="normal" dy="0" textLength="85.8" lengthAdjust="spacingAndGlyphs" >Duplication</text>
<path d="M141.9 58.9 L247 2.2 L298.4 96.6 L193.8 152.6 Z" stroke="#35288d" stroke-width="3.4" fill="none" stroke-linejoin="miter"/>
<text transform="translate(147.9 67.4) rotate(-28)" font-size="11.8" fill="#ed1c24" stroke="#ed1c24" stroke-width="0.00" font-weight="bold" dy="0" textLength="112" lengthAdjust="spacingAndGlyphs" >Hmelpomene a,b,c,d,e</text>
<text transform="translate(152.7 75.7) rotate(-28)" font-size="11.8" fill="#92278f" stroke="#92278f" stroke-width="0.00" font-weight="bold" dy="0" textLength="82.1" lengthAdjust="spacingAndGlyphs" >Hcydno a,b,c,d,e</text>
<text transform="translate(157.5 83.9) rotate(-28)" font-size="11.8" fill="#d93fa3" stroke="#d93fa3" stroke-width="0.00" font-weight="bold" dy="0" textLength="92.4" lengthAdjust="spacingAndGlyphs" >Htimareta a,b,c,d,e</text>
<text transform="translate(162.3 92.2) rotate(-28)" font-size="11.8" fill="#1b1464" stroke="#1b1464" stroke-width="0.00" font-weight="bold" dy="0" textLength="71" lengthAdjust="spacingAndGlyphs" >Hwallacei a,c,e</text>
<text transform="translate(167.1 100.5) rotate(-28)" font-size="11.8" fill="#3953a4" stroke="#3953a4" stroke-width="0.00" font-weight="bold" dy="0" textLength="48" lengthAdjust="spacingAndGlyphs" >Hdoris a,c</text>
<text transform="translate(171.9 108.7) rotate(-28)" font-size="11.8" fill="#4a90d9" stroke="#4a90d9" stroke-width="0.00" font-weight="bold" dy="0" textLength="62.7" lengthAdjust="spacingAndGlyphs" >Hhecuba a,c</text>
<text transform="translate(176.7 117) rotate(-28)" font-size="11.8" fill="#f7931e" stroke="#f7931e" stroke-width="0.00" font-weight="bold" dy="0" textLength="78" lengthAdjust="spacingAndGlyphs" >Htelesiphe a,c,e</text>
<text transform="translate(181.4 125.3) rotate(-28)" font-size="11.8" fill="#7a2a1a" stroke="#7a2a1a" stroke-width="0.00" font-weight="bold" dy="0" textLength="82" lengthAdjust="spacingAndGlyphs" >Hclysonymus a,c</text>
<text transform="translate(186.2 133.5) rotate(-28)" font-size="11.8" fill="#c4d42a" stroke="#c4d42a" stroke-width="0.00" font-weight="bold" dy="0" textLength="51.2" lengthAdjust="spacingAndGlyphs" >Herato a,c</text>
<text transform="translate(191 141.8) rotate(-28)" font-size="11.8" fill="#5dbb46" stroke="#5dbb46" stroke-width="0.00" font-weight="bold" dy="0" textLength="55.4" lengthAdjust="spacingAndGlyphs" >Hsapho a,c</text>
<text transform="translate(195.8 150.1) rotate(-28)" font-size="11.8" fill="#0b3b1a" stroke="#0b3b1a" stroke-width="0.00" font-weight="bold" dy="0" textLength="45.2" lengthAdjust="spacingAndGlyphs" >Hsara a,c</text>
<path d="M68.1 111.6 L150.4 174.6 L93.8 248.6 L10.8 186.1 Z" stroke="#35288d" stroke-width="3.4" fill="none" stroke-linejoin="miter"/>
<text transform="translate(22.6 193.8) rotate(-52.4)" font-size="11.8" fill="#ed1c24" stroke="#ed1c24" stroke-width="0.00" font-weight="bold" dy="0" textLength="84.9" lengthAdjust="spacingAndGlyphs" >Hmelpomene a,b</text>
<text transform="translate(29.2 198.7) rotate(-52.4)" font-size="11.8" fill="#92278f" stroke="#92278f" stroke-width="0.00" font-weight="bold" dy="0" textLength="54.8" lengthAdjust="spacingAndGlyphs" >Hcydno a,b</text>
<text transform="translate(35.8 203.6) rotate(-52.4)" font-size="11.8" fill="#d93fa3" stroke="#d93fa3" stroke-width="0.00" font-weight="bold" dy="0" textLength="67.9" lengthAdjust="spacingAndGlyphs" >Htimareta a,b</text>
<text transform="translate(42.4 208.5) rotate(-52.4)" font-size="11.8" fill="#1b1464" stroke="#1b1464" stroke-width="0.00" font-weight="bold" dy="0" textLength="65.7" lengthAdjust="spacingAndGlyphs" >Hwallacei a,b</text>
<text transform="translate(49 213.4) rotate(-52.4)" font-size="11.8" fill="#3953a4" stroke="#3953a4" stroke-width="0.00" font-weight="bold" dy="0" textLength="50.3" lengthAdjust="spacingAndGlyphs" >Hdoris a,b</text>
<text transform="translate(55.6 218.2) rotate(-52.4)" font-size="11.8" fill="#4a90d9" stroke="#4a90d9" stroke-width="0.00" font-weight="bold" dy="0" textLength="65" lengthAdjust="spacingAndGlyphs" >Hhecuba a,b</text>
<text transform="translate(62.3 223.1) rotate(-52.4)" font-size="11.8" fill="#f7931e" stroke="#f7931e" stroke-width="0.00" font-weight="bold" dy="0" textLength="73.6" lengthAdjust="spacingAndGlyphs" >Htelesiphe a,b</text>
<text transform="translate(68.9 228) rotate(-52.4)" font-size="11.8" fill="#7a2a1a" stroke="#7a2a1a" stroke-width="0.00" font-weight="bold" dy="0" textLength="86" lengthAdjust="spacingAndGlyphs" >Hclysonymus a,b</text>
<text transform="translate(75.5 232.9) rotate(-52.4)" font-size="11.8" fill="#c4d42a" stroke="#c4d42a" stroke-width="0.00" font-weight="bold" dy="0" textLength="54" lengthAdjust="spacingAndGlyphs" >Herato a,b</text>
<text transform="translate(82.1 237.8) rotate(-52.4)" font-size="11.8" fill="#0b3b1a" stroke="#0b3b1a" stroke-width="0.00" font-weight="bold" dy="0" textLength="48.9" lengthAdjust="spacingAndGlyphs" >Hsara a,b</text>
<text transform="translate(88.7 242.7) rotate(-52.4)" font-size="11.8" fill="#5dbb46" stroke="#5dbb46" stroke-width="0.00" font-weight="bold" dy="0" textLength="56.6" lengthAdjust="spacingAndGlyphs" >Hsapho a,b</text>
<rect x="398.6" y="851" width="80.8" height="45.7" fill="none" stroke="#dcd62e" stroke-width="2.2"/>
<text transform="translate(406.3 865.8) rotate(0)" font-size="14" fill="#f7931e" stroke="#f7931e" stroke-width="0.42" font-weight="normal" dy="0" textLength="60.7" lengthAdjust="spacingAndGlyphs" >Htelesiphe</text>
<text transform="translate(415.6 878.8) rotate(0)" font-size="14" fill="#5dbb46" stroke="#5dbb46" stroke-width="0.42" font-weight="normal" dy="0" textLength="42.2" lengthAdjust="spacingAndGlyphs" >Hsapho</text>
<text transform="translate(407.2 892.7) rotate(0)" font-size="14" fill="#1b1464" stroke="#1b1464" stroke-width="0.42" font-weight="normal" dy="0" textLength="54.6" lengthAdjust="spacingAndGlyphs" >Hwallacei</text>
<text transform="translate(27.8 706.9) rotate(0)" font-size="22" fill="#000" stroke="#000" stroke-width="0.66" font-weight="normal" dy="0" textLength="64.7" lengthAdjust="spacingAndGlyphs" >Introns</text>
<rect x="29.3" y="712.4" width="61.7" height="25" fill="#3a2d8f"/>
<text transform="translate(54.5 732) rotate(0)" font-size="20.5" fill="#fff" stroke="#fff" stroke-width="0.61" font-weight="normal" dy="0" textLength="11.5" lengthAdjust="spacingAndGlyphs" >0</text>
<rect x="29.3" y="737.1" width="61.7" height="25" fill="#3d52a6"/>
<text transform="translate(55.2 756.7) rotate(0)" font-size="20.5" fill="#fff" stroke="#fff" stroke-width="0.61" font-weight="normal" dy="0" textLength="10" lengthAdjust="spacingAndGlyphs" >1</text>
<rect x="29.3" y="761.8" width="61.7" height="25" fill="#22b04b"/>
<text transform="translate(54.5 781.4) rotate(0)" font-size="20.5" fill="#fff" stroke="#fff" stroke-width="0.61" font-weight="normal" dy="0" textLength="11.5" lengthAdjust="spacingAndGlyphs" >6</text>
<rect x="29.3" y="786.5" width="61.7" height="24.9" fill="#0c6835"/>
<text transform="translate(54.5 806.1) rotate(0)" font-size="20.5" fill="#fff" stroke="#fff" stroke-width="0.61" font-weight="normal" dy="0" textLength="11.5" lengthAdjust="spacingAndGlyphs" >9</text>
<rect x="29.3" y="811.1" width="61.7" height="25" fill="#ddd92e"/>
<text transform="translate(34.7 830.7) rotate(0)" font-size="20.5" fill="#fff" stroke="#fff" stroke-width="0.61" font-weight="normal" dy="0" textLength="51" lengthAdjust="spacingAndGlyphs" >10-12</text>
<rect x="29.3" y="835.8" width="61.7" height="25" fill="#f7931e"/>
<text transform="translate(48.7 855.4) rotate(0)" font-size="20.5" fill="#fff" stroke="#fff" stroke-width="0.61" font-weight="normal" dy="0" textLength="23" lengthAdjust="spacingAndGlyphs" >15</text>
<rect x="29.3" y="860.5" width="61.7" height="25.8" fill="#ed1c24"/>
<text transform="translate(34.7 880.1) rotate(0)" font-size="20.5" fill="#fff" stroke="#fff" stroke-width="0.61" font-weight="normal" dy="0" textLength="51" lengthAdjust="spacingAndGlyphs" >18-19</text>
<text transform="translate(120.3 837.4) rotate(0)" font-size="21" fill="#000" stroke="#000" stroke-width="0.63" font-weight="normal" dy="0" textLength="90.4" lengthAdjust="spacingAndGlyphs" >Bootstrap</text>
<circle cx="129" cy="855.2" r="6" fill="#000"/>
<text transform="translate(158.9 862) rotate(0)" font-size="21" fill="#000" stroke="#000" stroke-width="0.63" font-weight="normal" dy="0" textLength="52.4" lengthAdjust="spacingAndGlyphs" >&gt;80%</text>
<circle cx="129" cy="878.4" r="4.9" fill="#dedede" stroke="#000" stroke-width="2.8"/>
<text transform="translate(141.9 885.2) rotate(0)" font-size="21" fill="#000" stroke="#000" stroke-width="0.63" font-weight="normal" dy="0" textLength="69.4" lengthAdjust="spacingAndGlyphs" >39-79%</text>
<text transform="translate(78.5 338) rotate(21.3)" font-size="8.4" fill="#7a2a1a" stroke="#7a2a1a" stroke-width="0.30" font-weight="bold" dy="2.8" textLength="52.3" lengthAdjust="spacingAndGlyphs" >Hclysonymus 1a</text>
<text transform="translate(87.8 333.9) rotate(19.6)" font-size="8.4" fill="#f7931e" stroke="#f7931e" stroke-width="0.30" font-weight="bold" dy="2.8" textLength="44.1" lengthAdjust="spacingAndGlyphs" >Htelesiphe 1a</text>
<text transform="translate(99.7 330.4) rotate(21.5)" font-size="8.4" fill="#5dbb46" stroke="#5dbb46" stroke-width="0.30" font-weight="bold" dy="2.8" textLength="34.7" lengthAdjust="spacingAndGlyphs" >Hsapho 1a</text>
<text transform="translate(109.4 325.7) rotate(23.7)" font-size="8.4" fill="#0b3b1a" stroke="#0b3b1a" stroke-width="0.30" font-weight="bold" dy="2.8" textLength="27.8" lengthAdjust="spacingAndGlyphs" >Hsara 1a</text>
<text transform="translate(109.4 317.4) rotate(24.2)" font-size="8.4" fill="#c4d42a" stroke="#c4d42a" stroke-width="0.30" font-weight="bold" dy="2.8" textLength="30.9" lengthAdjust="spacingAndGlyphs" >Herato 1a</text>
<text transform="translate(99 305) rotate(23.2)" font-size="8.4" fill="#1b1464" stroke="#1b1464" stroke-width="0.30" font-weight="bold" dy="2.8" textLength="45.3" lengthAdjust="spacingAndGlyphs" >Hwallacei 1a</text>
<text transform="translate(92.9 292.7) rotate(26.7)" font-size="8.4" fill="#ed1c24" stroke="#ed1c24" stroke-width="0.30" font-weight="bold" dy="2.8" textLength="54.6" lengthAdjust="spacingAndGlyphs" >Hmelpomene 1a</text>
<text transform="translate(113.9 293.8) rotate(26.1)" font-size="8.4" fill="#92278f" stroke="#92278f" stroke-width="0.30" font-weight="bold" dy="2.8" textLength="33.3" lengthAdjust="spacingAndGlyphs" >Hcydno 1a</text>
<text transform="translate(110.4 284.5) rotate(27.8)" font-size="8.4" fill="#d93fa3" stroke="#d93fa3" stroke-width="0.30" font-weight="bold" dy="2.8" textLength="40" lengthAdjust="spacingAndGlyphs" >Htimareta 1a</text>
<text transform="translate(125.4 283) rotate(28.8)" font-size="8.4" fill="#3953a4" stroke="#3953a4" stroke-width="0.30" font-weight="bold" dy="2.8" textLength="29.1" lengthAdjust="spacingAndGlyphs" >Hdoris 1a</text>
<text transform="translate(122.7 273.2) rotate(29.8)" font-size="8.4" fill="#4a90d9" stroke="#4a90d9" stroke-width="0.30" font-weight="bold" dy="2.8" textLength="37.4" lengthAdjust="spacingAndGlyphs" >Hhecuba 1a</text>
<text transform="translate(120.8 262.5) rotate(32.3)" font-size="8.4" fill="#1b1464" stroke="#1b1464" stroke-width="0.30" font-weight="bold" dy="2.8" textLength="40.8" lengthAdjust="spacingAndGlyphs" >Hwallacei 1b</text>
<text transform="translate(125.3 255) rotate(35.3)" font-size="8.4" fill="#3953a4" stroke="#3953a4" stroke-width="0.30" font-weight="bold" dy="2.8" textLength="31.9" lengthAdjust="spacingAndGlyphs" >Hdoris 1b</text>
<text transform="translate(122.4 244.7) rotate(35.7)" font-size="8.4" fill="#4a90d9" stroke="#4a90d9" stroke-width="0.30" font-weight="bold" dy="2.8" textLength="40.5" lengthAdjust="spacingAndGlyphs" >Hhecuba 1b</text>
<text transform="translate(126 236.2) rotate(36.4)" font-size="8.4" fill="#d93fa3" stroke="#d93fa3" stroke-width="0.30" font-weight="bold" dy="2.8" textLength="43.4" lengthAdjust="spacingAndGlyphs" >Htimareta 1b</text>
<text transform="translate(135 232.7) rotate(38.5)" font-size="8.4" fill="#92278f" stroke="#92278f" stroke-width="0.30" font-weight="bold" dy="2.8" textLength="36.1" lengthAdjust="spacingAndGlyphs" >Hcydno 1b</text>
<text transform="translate(126 215.7) rotate(38.6)" font-size="8.4" fill="#ed1c24" stroke="#ed1c24" stroke-width="0.30" font-weight="bold" dy="2.8" textLength="55.1" lengthAdjust="spacingAndGlyphs" >Hmelpomene 1b</text>
<text transform="translate(154.2 227.2) rotate(41.3)" font-size="8.4" fill="#0b3b1a" stroke="#0b3b1a" stroke-width="0.30" font-weight="bold" dy="2.8" textLength="29.2" lengthAdjust="spacingAndGlyphs" >Hsara 1b</text>
<text transform="translate(154.2 218.3) rotate(40.2)" font-size="8.4" fill="#5dbb46" stroke="#5dbb46" stroke-width="0.30" font-weight="bold" dy="2.8" textLength="33.7" lengthAdjust="spacingAndGlyphs" >Hsapho 1b</text>
<text transform="translate(146 204.2) rotate(40.5)" font-size="8.4" fill="#7a2a1a" stroke="#7a2a1a" stroke-width="0.30" font-weight="bold" dy="2.8" textLength="54.2" lengthAdjust="spacingAndGlyphs" >Hclysonymus 1b</text>
<text transform="translate(156 204.6) rotate(40.1)" font-size="8.4" fill="#f7931e" stroke="#f7931e" stroke-width="0.30" font-weight="bold" dy="2.8" textLength="45.8" lengthAdjust="spacingAndGlyphs" >Htelesiphe 1b</text>
<text transform="translate(169.4 207) rotate(41.7)" font-size="8.4" fill="#c4d42a" stroke="#c4d42a" stroke-width="0.30" font-weight="bold" dy="2.8" textLength="34.6" lengthAdjust="spacingAndGlyphs" >Herato 1b</text>
<text transform="translate(196.3 214.6) rotate(46.1)" font-size="8.4" fill="#3953a4" stroke="#3953a4" stroke-width="0.30" font-weight="bold" dy="2.8" textLength="30.7" lengthAdjust="spacingAndGlyphs" >Hdoris 2a</text>
<text transform="translate(194.5 205.6) rotate(43.2)" font-size="8.4" fill="#4a90d9" stroke="#4a90d9" stroke-width="0.30" font-weight="bold" dy="2.8" textLength="38.9" lengthAdjust="spacingAndGlyphs" >Hhecuba 2a</text>
<text transform="translate(198.1 195.7) rotate(45.9)" font-size="8.4" fill="#1b1464" stroke="#1b1464" stroke-width="0.30" font-weight="bold" dy="2.8" textLength="38.3" lengthAdjust="spacingAndGlyphs" >Hwallacei 2a</text>
<text transform="translate(204.4 191.2) rotate(49.4)" font-size="8.4" fill="#d93fa3" stroke="#d93fa3" stroke-width="0.30" font-weight="bold" dy="2.8" textLength="39.7" lengthAdjust="spacingAndGlyphs" >Htimareta 2a</text>
<text transform="translate(199.9 176.8) rotate(49.7)" font-size="8.4" fill="#ed1c24" stroke="#ed1c24" stroke-width="0.30" font-weight="bold" dy="2.8" textLength="52.5" lengthAdjust="spacingAndGlyphs" >Hmelpomene 2a</text>
<text transform="translate(218.8 186.7) rotate(49.2)" font-size="8.4" fill="#92278f" stroke="#92278f" stroke-width="0.30" font-weight="bold" dy="2.8" textLength="32.7" lengthAdjust="spacingAndGlyphs" >Hcydno 2a</text>
<text transform="translate(225.1 183.1) rotate(52.4)" font-size="8.4" fill="#92278f" stroke="#92278f" stroke-width="0.30" font-weight="bold" dy="2.8" textLength="32.1" lengthAdjust="spacingAndGlyphs" >Hcydno 2b</text>
<text transform="translate(225.1 172.3) rotate(52.9)" font-size="8.4" fill="#d93fa3" stroke="#d93fa3" stroke-width="0.30" font-weight="bold" dy="2.8" textLength="40" lengthAdjust="spacingAndGlyphs" >Htimareta 2b</text>
<text transform="translate(225.1 158.8) rotate(53.1)" font-size="8.4" fill="#ed1c24" stroke="#ed1c24" stroke-width="0.30" font-weight="bold" dy="2.8" textLength="52.2" lengthAdjust="spacingAndGlyphs" >Hmelpomene 2b</text>
<text transform="translate(247.6 175) rotate(54.2)" font-size="8.4" fill="#0b3b1a" stroke="#0b3b1a" stroke-width="0.30" font-weight="bold" dy="2.8" textLength="25.9" lengthAdjust="spacingAndGlyphs" >Hsara 2a</text>
<text transform="translate(252 166) rotate(55.7)" font-size="8.4" fill="#5dbb46" stroke="#5dbb46" stroke-width="0.30" font-weight="bold" dy="2.8" textLength="32" lengthAdjust="spacingAndGlyphs" >Hsapho 2a</text>
<text transform="translate(259.3 166.9) rotate(57.7)" font-size="8.4" fill="#c4d42a" stroke="#c4d42a" stroke-width="0.30" font-weight="bold" dy="2.8" textLength="30.2" lengthAdjust="spacingAndGlyphs" >Herato 2a</text>
<text transform="translate(254.8 146.2) rotate(56.9)" font-size="8.4" fill="#7a2a1a" stroke="#7a2a1a" stroke-width="0.30" font-weight="bold" dy="2.8" textLength="50.9" lengthAdjust="spacingAndGlyphs" >Hclysonymus 2a</text>
<text transform="translate(265.6 149.8) rotate(59.3)" font-size="8.4" fill="#f7931e" stroke="#f7931e" stroke-width="0.30" font-weight="bold" dy="2.8" textLength="42.1" lengthAdjust="spacingAndGlyphs" >Htelesiphe 2a</text>
<text transform="translate(271.9 145.3) rotate(58)" font-size="8.4" fill="#f7931e" stroke="#f7931e" stroke-width="0.30" font-weight="bold" dy="2.8" textLength="40.7" lengthAdjust="spacingAndGlyphs" >Htelesiphe 2e</text>
<text transform="translate(277.3 138.1) rotate(60.8)" font-size="8.4" fill="#f7931e" stroke="#f7931e" stroke-width="0.30" font-weight="bold" dy="2.8" textLength="42.5" lengthAdjust="spacingAndGlyphs" >Htelesiphe 2c</text>
<text transform="translate(280.9 128.7) rotate(63)" font-size="8.4" fill="#7a2a1a" stroke="#7a2a1a" stroke-width="0.30" font-weight="bold" dy="2.8" textLength="51.7" lengthAdjust="spacingAndGlyphs" >Hclysonymus 2c</text>
<text transform="translate(295.3 139.5) rotate(64.2)" font-size="8.4" fill="#c4d42a" stroke="#c4d42a" stroke-width="0.30" font-weight="bold" dy="2.8" textLength="29.2" lengthAdjust="spacingAndGlyphs" >Herato 2c</text>
<text transform="translate(303.4 141.3) rotate(63.4)" font-size="8.4" fill="#0b3b1a" stroke="#0b3b1a" stroke-width="0.30" font-weight="bold" dy="2.8" textLength="24.4" lengthAdjust="spacingAndGlyphs" >Hsara 2c</text>
<text transform="translate(307 132.3) rotate(64.1)" font-size="8.4" fill="#5dbb46" stroke="#5dbb46" stroke-width="0.30" font-weight="bold" dy="2.8" textLength="33.2" lengthAdjust="spacingAndGlyphs" >Hsapho 2c</text>
<text transform="translate(313.3 128.7) rotate(65.4)" font-size="8.4" fill="#92278f" stroke="#92278f" stroke-width="0.30" font-weight="bold" dy="2.8" textLength="32.8" lengthAdjust="spacingAndGlyphs" >Hcydno 2e</text>
<text transform="translate(313.3 108) rotate(67.7)" font-size="8.4" fill="#ed1c24" stroke="#ed1c24" stroke-width="0.30" font-weight="bold" dy="2.8" textLength="52.7" lengthAdjust="spacingAndGlyphs" >Hmelpomene 2e</text>
<text transform="translate(325 117.9) rotate(67.3)" font-size="8.4" fill="#d93fa3" stroke="#d93fa3" stroke-width="0.30" font-weight="bold" dy="2.8" textLength="40.2" lengthAdjust="spacingAndGlyphs" >Htimareta 2e</text>
<text transform="translate(328.6 104.4) rotate(68.2)" font-size="8.4" fill="#ed1c24" stroke="#ed1c24" stroke-width="0.30" font-weight="bold" dy="2.8" textLength="51.5" lengthAdjust="spacingAndGlyphs" >Hmelpomene 2c</text>
<text transform="translate(340.3 111.6) rotate(68)" font-size="8.4" fill="#d93fa3" stroke="#d93fa3" stroke-width="0.30" font-weight="bold" dy="2.8" textLength="39" lengthAdjust="spacingAndGlyphs" >Htimareta 2c</text>
<text transform="translate(349.3 119.7) rotate(67.6)" font-size="8.4" fill="#92278f" stroke="#92278f" stroke-width="0.30" font-weight="bold" dy="2.8" textLength="31.3" lengthAdjust="spacingAndGlyphs" >Hcydno 2c</text>
<text transform="translate(351.1 96.3) rotate(70.4)" font-size="8.4" fill="#ed1c24" stroke="#ed1c24" stroke-width="0.30" font-weight="bold" dy="2.8" textLength="54.6" lengthAdjust="spacingAndGlyphs" >Hmelpomene 2d</text>
<text transform="translate(362.8 108) rotate(72.7)" font-size="8.4" fill="#d93fa3" stroke="#d93fa3" stroke-width="0.30" font-weight="bold" dy="2.8" textLength="40.6" lengthAdjust="spacingAndGlyphs" >Htimareta 2d</text>
<text transform="translate(370.9 115.2) rotate(71.6)" font-size="8.4" fill="#92278f" stroke="#92278f" stroke-width="0.30" font-weight="bold" dy="2.8" textLength="32.4" lengthAdjust="spacingAndGlyphs" >Hcydno 2d</text>
<text transform="translate(375.4 104.4) rotate(73.1)" font-size="8.4" fill="#1b1464" stroke="#1b1464" stroke-width="0.30" font-weight="bold" dy="2.8" textLength="41.5" lengthAdjust="spacingAndGlyphs" >Hwallacei 2e</text>
<text transform="translate(383.5 103.5) rotate(73.5)" font-size="8.4" fill="#1b1464" stroke="#1b1464" stroke-width="0.30" font-weight="bold" dy="2.8" textLength="39.4" lengthAdjust="spacingAndGlyphs" >Hwallacei 2c</text>
<text transform="translate(391.6 107.1) rotate(73.7)" font-size="8.4" fill="#4a90d9" stroke="#4a90d9" stroke-width="0.30" font-weight="bold" dy="2.8" textLength="36.6" lengthAdjust="spacingAndGlyphs" >Hhecuba 2c</text>
<text transform="translate(399.7 109.8) rotate(74.8)" font-size="8.4" fill="#3953a4" stroke="#3953a4" stroke-width="0.30" font-weight="bold" dy="2.8" textLength="32.6" lengthAdjust="spacingAndGlyphs" >Hdoris 2c</text>
</svg>
</body></html>
